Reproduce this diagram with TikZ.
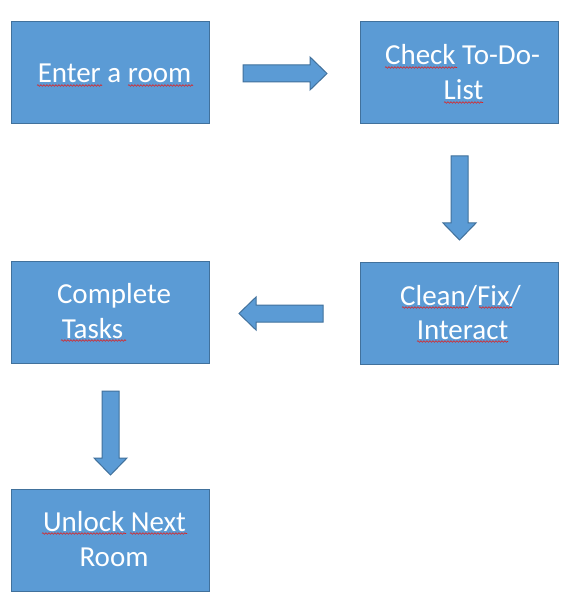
\documentclass[tikz,border=0pt]{standalone}
\usepackage{fontspec}
\setmainfont{Carlito}
\usetikzlibrary{decorations.pathmorphing}
\definecolor{boxfill}{HTML}{5B9BD5}
\definecolor{boxline}{HTML}{41719C}
\definecolor{squig}{HTML}{E0201F}
\tikzset{
  stepbox/.style={draw=boxline, fill=boxfill, line width=1pt, minimum width=198pt, minimum height=102pt, inner sep=0pt},
  lbl/.style={text=white, font=\fontsize{29}{35}\selectfont, inner sep=0pt, anchor=base},
  spell/.style={draw=squig, line width=0.6pt, decorate, decoration={snake, segment length=3pt, amplitude=0.8pt}},
  arrowfill/.style={draw=boxline, fill=boxfill, line width=1pt, line join=miter},
  blockarrow/.pic={\draw[arrowfill] (0,-8.5) -- (67,-8.5) -- (67,-16.5) -- (84,0) -- (67,16.5) -- (67,8.5) -- (0,8.5) -- cycle;}
}
\begin{document}
\begin{tikzpicture}[x=1pt,y=-1pt]
\useasboundingbox[fill=white] (0,0) rectangle (587,593);
% boxes
\node[stepbox] (b1) at (110,73) {};
\node[stepbox] (b2) at (459.5,73) {};
\node[stepbox] (b3) at (459.5,313) {};
\node[stepbox] (b4) at (110,312) {};
\node[stepbox] (b5) at (110,540.5) {};
% labels
\node[lbl] (t1) at (114.5,82.5) {Enter a room};
\node[lbl] (t2a) at (462.5,64.5) {Check To-Do-};
\node[lbl] (t2b) at (463.5,100) {List};
\node[lbl] (t3a) at (460.5,305) {Clean/Fix/};
\node[lbl] (t3b) at (462.5,339) {Interact};
\node[lbl] (t4a) at (114,303.5) {Complete};
\node[lbl] (t4b) at (92.5,338) {Tasks};
\node[lbl] (t5a) at (114.5,531) {Unlock Next};
\node[lbl] (t5b) at (114,566) {Room};
% spell-check underlines
\coordinate (s1a) at (37,85.5);  \coordinate (s1b) at (102,85.5);
\coordinate (s2a) at (128,85.5); \coordinate (s2b) at (193,85.5);
\coordinate (s3a) at (385,67.5); \coordinate (s3b) at (457,67.5);
\coordinate (s4a) at (444,102.5); \coordinate (s4b) at (483,102.5);
\coordinate (s5a) at (61,340.5); \coordinate (s5b) at (126,340.5);
\coordinate (s6a) at (402,307.5); \coordinate (s6b) at (468,307.5);
\coordinate (s7a) at (479,307.5); \coordinate (s7b) at (512,307.5);
\coordinate (s8a) at (417,341.5); \coordinate (s8b) at (508,341.5);
\coordinate (s9a) at (42,533.5); \coordinate (s9b) at (126,533.5);
\coordinate (s10a) at (130,533.5); \coordinate (s10b) at (187,533.5);
\foreach \i in {1,...,10} {\draw[spell] (s\i a) -- (s\i b);}
% block arrows
\pic at (243,73.5) {blockarrow};
\pic[rotate=-90] at (459.5,156) {blockarrow};
\pic[rotate=180] at (323,313.5) {blockarrow};
\pic[rotate=-90] at (110.5,391) {blockarrow};
\end{tikzpicture}
\end{document}
